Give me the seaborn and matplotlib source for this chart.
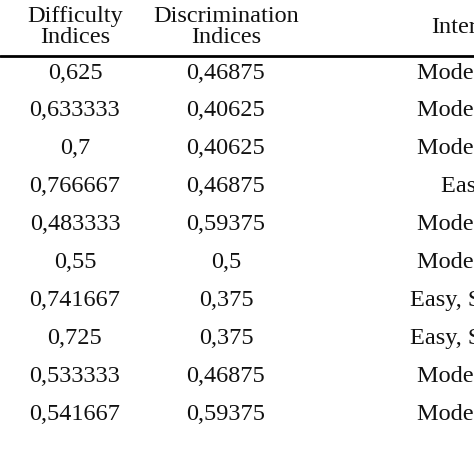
import matplotlib
matplotlib.use("Agg")
import matplotlib.pyplot as plt
import seaborn as sns

# table data
headers = ["Difficulty\nIndices", "Discrimination\nIndices", "Interpretation"]
difficulty = ["0,625", "0,633333", "0,7", "0,766667", "0,483333",
              "0,55", "0,741667", "0,725", "0,533333", "0,541667"]
discrimination = ["0,46875", "0,40625", "0,40625", "0,46875", "0,59375",
                  "0,5", "0,375", "0,375", "0,46875", "0,59375"]
interpretation = ["Moderate, Good", "Moderate, Good", "Moderate, Good", "Easy, Good",
                  "Moderate, Good", "Moderate, Good", "Easy, Satisfactory",
                  "Easy, Satisfactory", "Moderate, Good", "Moderate, Good"]

sns.set_theme(style="white")
plt.rcParams['font.family'] = ['Liberation Serif', 'DejaVu Serif']

fig = plt.figure(figsize=(4.74, 4.74), dpi=100)
ax = fig.add_axes([0, 0, 1, 1])
ax.set_xlim(0, 474)
ax.set_ylim(474, 0)
ax.axis("off")

col_x = [75, 226, 497]
fs = 17.5

for x, h in zip(col_x, headers):
    ax.text(x, 27, h, ha="center", va="center", fontsize=fs, linespacing=1.0, color="#111")

ax.plot([0, 474], [56, 56], color="black", lw=2.0)

for i, (a, b, c) in enumerate(zip(difficulty, discrimination, interpretation)):
    y = 73 + i * 37.9
    for x, t in zip(col_x, (a, b, c)):
        ax.text(x, y, t, ha="center", va="center", fontsize=fs, color="#111")

plt.savefig("out.png", dpi=100)
